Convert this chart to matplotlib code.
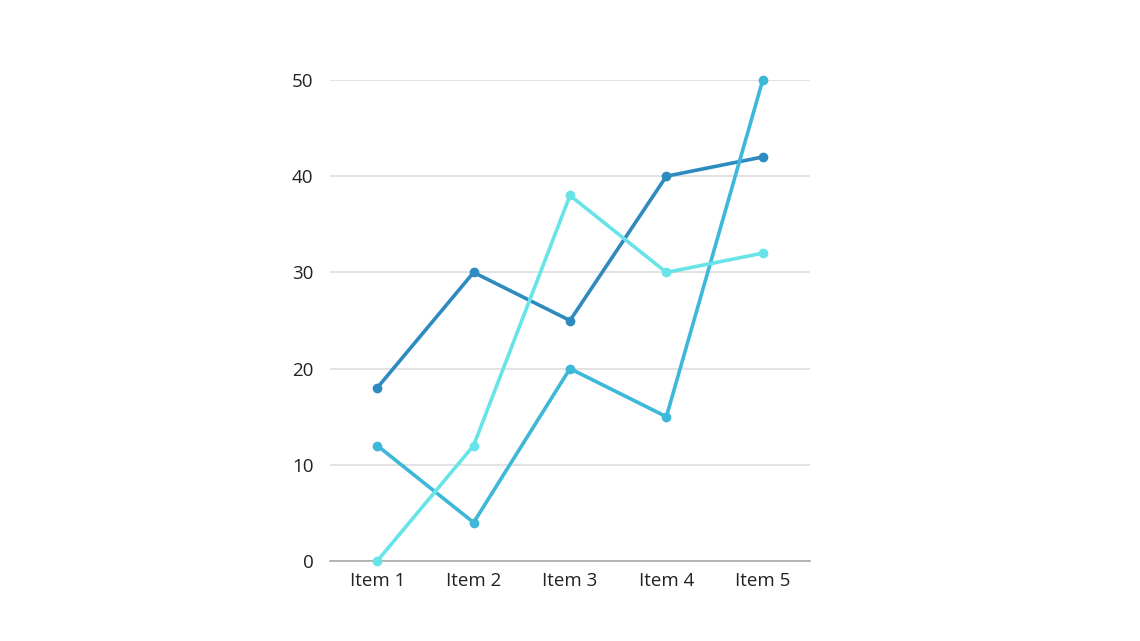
import matplotlib
matplotlib.use("Agg")
import matplotlib.pyplot as plt

categories = ["Item 1", "Item 2", "Item 3", "Item 4", "Item 5"]
series_a = [18, 30, 25, 40, 42]
series_b = [12, 4, 20, 15, 50]
series_c = [0, 12, 38, 30, 32]
yticks = [0, 10, 20, 30, 40, 50]

colors = ["#2e8bc0", "#3db8d8", "#68e4e9"]

plt.rcParams['font.family'] = ['Open Sans', 'DejaVu Sans']

fig = plt.figure(figsize=(11.4, 6.41), dpi=100)
ax = fig.add_axes([330/1140, 1-561/641, 480/1140, 481/641])

x = list(range(len(categories)))
for vals, c in zip([series_a, series_b, series_c], colors):
    ax.plot(x, vals, color=c, lw=2.6, marker="o", markersize=6, zorder=3,
            solid_capstyle="round", clip_on=False)

ax.set_xlim(-0.49, 4.49)
ax.set_ylim(0, 50)
ax.set_yticks(yticks)
ax.set_xticks(x)
ax.set_xticklabels(categories)
ax.grid(axis="y", color="#dddddd", lw=1.2, zorder=0)
ax.set_axisbelow(True)
for s in ["top", "right", "left"]:
    ax.spines[s].set_visible(False)
ax.spines["bottom"].set_color("#aaaaaa")
ax.spines["bottom"].set_linewidth(1.2)
ax.tick_params(axis="both", length=0, labelsize=13.5, labelcolor="#222222")
ax.tick_params(axis="y", pad=12)
ax.tick_params(axis="x", pad=8)

fig.savefig("out.png", dpi=100, facecolor="white")
